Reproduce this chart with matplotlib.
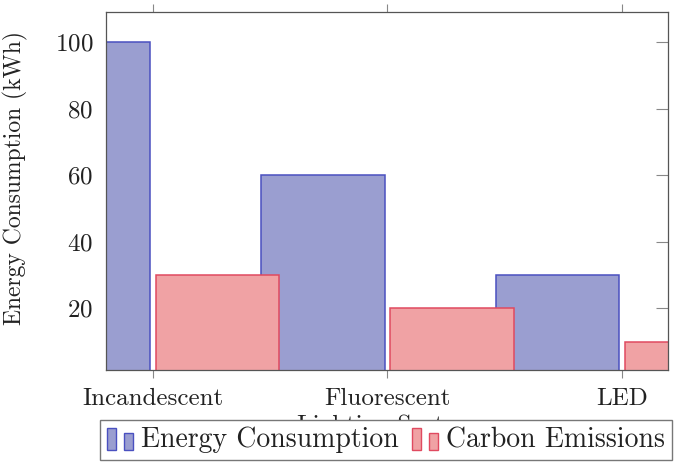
import matplotlib
matplotlib.use("Agg")
import matplotlib.pyplot as plt
from matplotlib.legend_handler import HandlerBase
from matplotlib.patches import Rectangle
import numpy as np

plt.rcParams['font.family'] = ['cmr10', 'DejaVu Serif']
plt.rcParams['mathtext.fontset'] = 'cm'
plt.rcParams['axes.formatter.use_mathtext'] = True

systems = ["Incandescent", "Fluorescent", "LED"]
energy = [100, 60, 30]
carbon = [30, 20, 10]
yticks = [20, 40, 60, 80, 100]

blue_fill = "#9a9ed0"
blue_edge = "#4a50c0"
red_fill = "#f0a2a4"
red_edge = "#e04a60"


class BarHandler(HandlerBase):
    # pgfplots-style legend image: two little bars
    def create_artists(self, legend, orig_handle, xdescent, ydescent,
                       width, height, fontsize, trans):
        fc = orig_handle.get_facecolor()
        ec = orig_handle.get_edgecolor()
        w = width * 0.36
        h = height * 1.15
        y0 = -ydescent - height * 0.15
        r1 = Rectangle((-xdescent, y0), w, h, facecolor=fc, edgecolor=ec,
                       linewidth=1.0, transform=trans)
        r2 = Rectangle((-xdescent + width * 0.64, y0), w, h * 0.78,
                       facecolor=fc, edgecolor=ec, linewidth=1.0, transform=trans)
        return [r1, r2]


fig = plt.figure(figsize=(6.85, 4.63), dpi=100)
ax = fig.add_axes([0.1547, 0.2009, 0.8205, 0.7731])

x = np.arange(len(systems))
w = 0.525
off = 0.275
b1 = ax.bar(x - off, energy, w, color=blue_fill, edgecolor=blue_edge,
            linewidth=1.1, label="Energy Consumption", zorder=2)
b2 = ax.bar(x + off, carbon, w, color=red_fill, edgecolor=red_edge,
            linewidth=1.1, label="Carbon Emissions", zorder=2)

ax.set_xlim(-0.2, 2.196)
ax.set_ylim(1.5, 109)
ax.set_xticks(x)
ax.set_xticklabels(systems)
ax.set_yticks(yticks)
ax.set_axisbelow(True)

ax.tick_params(axis='x', direction='out', length=6, width=0.8, color='#888888',
               top=True, bottom=True, labelsize=18, pad=7, labelcolor='#222222')
ax.tick_params(axis='y', direction='in', length=8.5, width=0.8, color='#888888',
               left=True, right=True, labelsize=18, pad=9, labelcolor='#222222')
for s in ax.spines.values():
    s.set_color('#555555')
    s.set_linewidth(0.9)
    s.set_zorder(3)

ax.set_ylabel("Energy Consumption (kWh)", fontsize=17, color='#222222')
ax.yaxis.set_label_coords(-0.138, 0.536)
ax.set_xlabel("Lighting System", fontsize=18, color='#222222', labelpad=3)

leg = fig.legend(handles=[b1.patches[0], b2.patches[0]],
                 labels=["Energy Consumption", "Carbon Emissions"],
                 handler_map={Rectangle: BarHandler()},
                 loc='lower center', bbox_to_anchor=(0.5635, 0.0065), ncol=2,
                 fontsize=20, frameon=True, fancybox=False, framealpha=1,
                 edgecolor='#777777', handlelength=0.95, handletextpad=0.3,
                 columnspacing=0.45, borderpad=0.25, borderaxespad=0)
leg.get_frame().set_linewidth(1.0)
for t in leg.get_texts():
    t.set_color('#222222')

fig.savefig("out.png", dpi=100)
